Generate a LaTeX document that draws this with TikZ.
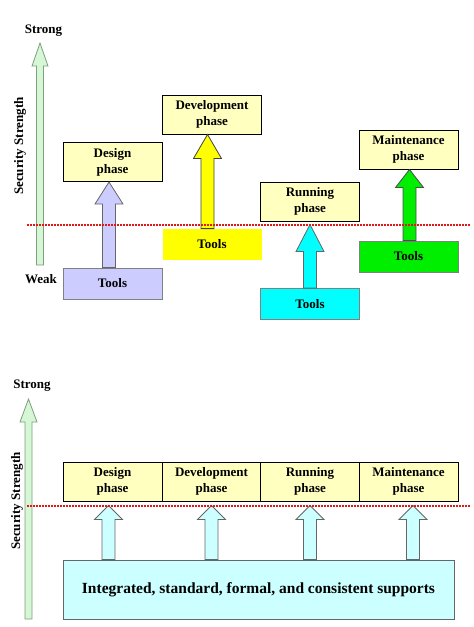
\documentclass[tikz,border=0pt]{standalone}
\usepackage{fontspec}
\setmainfont{Liberation Serif}
\usetikzlibrary{calc}
\definecolor{phasefill}{HTML}{FFFFC0}
\definecolor{lav}{HTML}{CCCCFF}
\definecolor{yel}{HTML}{FFFF00}
\definecolor{cya}{HTML}{00FFFF}
\definecolor{grn}{HTML}{00EE00}
\definecolor{axisfill}{HTML}{D5F7D5}
\definecolor{axisdraw}{HTML}{7F9F7F}
\definecolor{lcyan}{HTML}{CCFFFF}
\definecolor{dotred}{HTML}{E01818}
\newcommand{\blockarr}[8]{%
 \draw[#3] let \p1=(#1), \p2=(#2) in
 ({\x2+(#4pt)-(#6pt)},\y1) -- ({\x2+(#4pt)-(#6pt)},{\y2-(#5pt)-(#8pt)}) --
 ({\x2+(#4pt)-(#7pt)},{\y2-(#5pt)-(#8pt)}) -- ({\x2+(#4pt)},{\y2-(#5pt)}) --
 ({\x2+(#4pt)+(#7pt)},{\y2-(#5pt)-(#8pt)}) -- ({\x2+(#4pt)+(#6pt)},{\y2-(#5pt)-(#8pt)}) --
 ({\x2+(#4pt)+(#6pt)},\y1) -- cycle;}
\begin{document}
\begin{tikzpicture}[x=1pt,y=-1pt,
 every node/.style={font=\bfseries\fontsize{13}{16}\selectfont, inner sep=0pt, align=center},
 phasebox/.style={draw=black, line width=1pt, fill=phasefill, minimum width=99pt, minimum height=39pt},
 toolbox/.style={draw=gray, line width=0.8pt, minimum width=99pt, minimum height=31pt},
 axisarr/.style={fill=axisfill, draw=axisdraw, line width=0.8pt},
 blk/.style={line width=0.8pt},
 redline/.style={dotred, line width=1.5pt, dash pattern=on 1.5pt off 1.5pt}]
\useasboundingbox (0,0) rectangle (474,627);
% ---------- top panel ----------
\coordinate (ab1) at (40,265);
\coordinate (at1) at (40,43);
\blockarr{ab1}{at1}{axisarr}{0}{0}{3.5}{8}{23}
\node (strong1) at (43.5,31) {Strong};
\node (weak1) at (41,279) {Weak};
\node[rotate=90] (ss1) at (20,146) {Security Strength};

\node[toolbox, fill=lav] (t1) at (112.5,283.5) {Tools};
\node[toolbox, fill=yel, draw=none] (t2) at (212,244.5) {Tools};
\node[toolbox, fill=cya] (t3) at (310,304) {Tools};
\node[toolbox, fill=grn] (t4) at (408.5,256.5) {Tools};

\node[phasebox] (p1) at (112.5,162) {Design\\phase};
\node[phasebox] (p2) at (212,114.5) {Development\\phase};
\node[phasebox] (p3) at (310,201.5) {Running\\phase};
\node[phasebox] (p4) at (408.5,149.5) {Maintenance\\phase};

\blockarr{t1.north}{p1.south}{blk, fill=lav, draw=gray!80!black}{-3.5}{0}{6.5}{14}{22}
\blockarr{t2.north}{p2.south}{blk, fill=yel, draw=black!75}{-4.5}{0}{6.5}{14}{24}
\blockarr{t3.north}{p3.south}{blk, fill=cya, draw=gray!80!black}{0}{3}{6.5}{14}{27}
\blockarr{t4.north}{p4.south}{blk, fill=grn, draw=black!70}{1}{0}{6.5}{14}{18}

\coordinate (dl1) at (27,225);
\coordinate (dr1) at (470,225);
\draw[redline] (dl1) -- (dr1);

% ---------- bottom panel ----------
\coordinate (ab2) at (28.5,619);
\coordinate (at2) at (28.5,399);
\blockarr{ab2}{at2}{axisarr}{0}{0}{3.5}{8.5}{23}
\node (strong2) at (32,386) {Strong};
\node[rotate=90] (ss2) at (17,501) {Security Strength};

\node[phasebox] (q1) at (112.5,481.5) {Design\\phase};
\node[phasebox] (q2) at (211.5,481.5) {Development\\phase};
\node[phasebox] (q3) at (310,481.5) {Running\\phase};
\node[phasebox] (q4) at (408.5,481.5) {Maintenance\\phase};

\node[draw=gray!80!black, line width=0.8pt, fill=lcyan, minimum width=391pt, minimum height=59pt,
 font=\bfseries\fontsize{15.5}{18}\selectfont] (sup) at (258.5,589.5) {Integrated, standard, formal, and consistent supports};

\blockarr{sup.north}{q1.south}{blk, fill=lcyan, draw=gray!80!black}{-4}{4}{6.5}{14}{14}
\blockarr{sup.north}{q2.south}{blk, fill=lcyan, draw=gray!80!black}{0}{4}{6.5}{14}{14}
\blockarr{sup.north}{q3.south}{blk, fill=lcyan, draw=gray!80!black}{0}{4}{6.5}{14}{14}
\blockarr{sup.north}{q4.south}{blk, fill=lcyan, draw=gray!80!black}{4.5}{4}{6.5}{14}{14}

\coordinate (dl2) at (27,506);
\coordinate (dr2) at (470,506);
\draw[redline] (dl2) -- (dr2);
\end{tikzpicture}
\end{document}
